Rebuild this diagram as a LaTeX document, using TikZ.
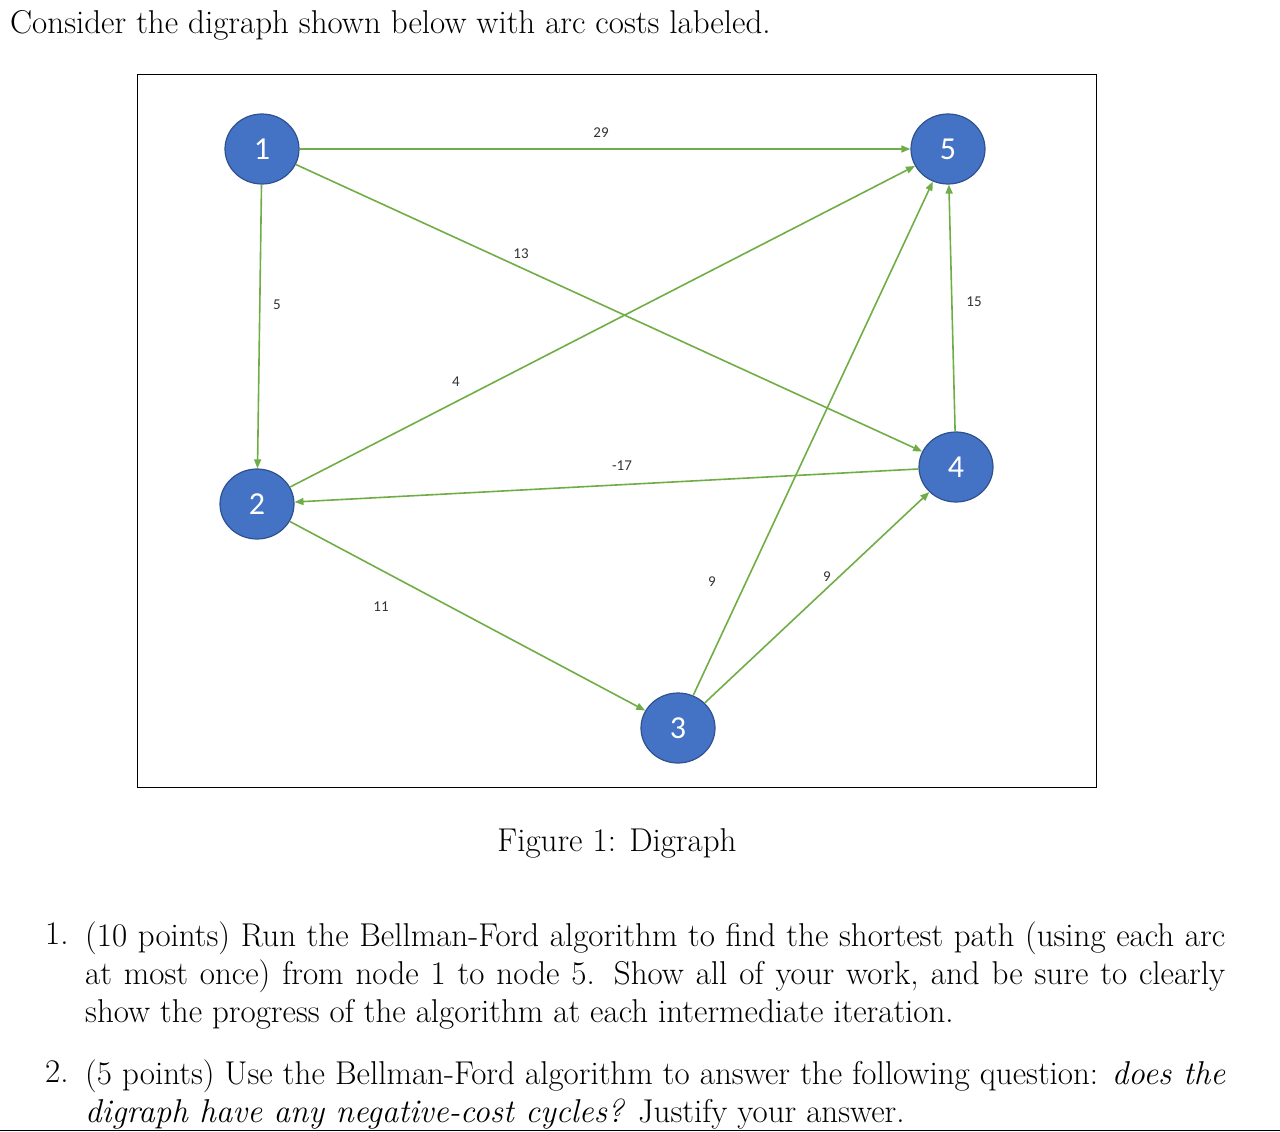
\documentclass[tikz,border=0pt]{standalone}
\usepackage{fontspec}
\newfontfamily\calib{Carlito}
\usetikzlibrary{arrows.meta,shapes.geometric}
\definecolor{nfill}{HTML}{4472C4}
\definecolor{ndraw}{HTML}{2F528F}
\definecolor{egreen}{HTML}{70AD47}
\begin{document}
\begin{tikzpicture}[x=1pt,y=-1pt,
  vert/.style={ellipse,draw=ndraw,line width=1.2pt,fill=nfill,minimum width=74pt,minimum height=70pt,inner sep=0pt,text=white,font=\calib\fontsize{32}{34}\selectfont},
  arc/.style={draw=egreen,line width=1.6pt,-{Triangle[length=9pt,width=7pt]}},
  lab/.style={font=\calib\fontsize{15}{17}\selectfont,text=black!80},
  body/.style={font=\fontsize{33}{38}\selectfont,anchor=north west,align=justify,inner sep=0pt}]
\useasboundingbox (0,0) rectangle (1280,1132);
\node[anchor=west,inner sep=0pt,font=\fontsize{33}{38}\selectfont] (t) at (10,25) {Consider the digraph shown below with arc costs labeled.};
\draw[line width=1pt] (137,75) rectangle (1096,787);
\node[vert] (n1) at (262,149) {1};
\node[vert] (n5) at (948,149) {5};
\node[vert] (n2) at (257,504) {2};
\node[vert] (n4) at (956,467) {4};
\node[vert] (n3) at (678,728) {3};
\draw[arc] (n1) -- (n5);
\draw[arc] (n1) -- (n2);
\draw[arc] (n1) -- (n4);
\draw[arc] (n2) -- (n5);
\draw[arc] (n4) -- (n2);
\draw[arc] (n2) -- (n3);
\draw[arc] (n3) -- (n5);
\draw[arc] (n3) -- (n4);
\draw[arc] (n4) -- (n5);
\node[lab] (l29) at (601,133) {29};
\node[lab] (l13) at (521,254) {13};
\node[lab] (l5) at (277,305) {5};
\node[lab] (l15) at (974,302) {15};
\node[lab] (l4) at (456,382) {4};
\node[lab] (l17) at (622,466) {-17};
\node[lab] (l9a) at (712,582) {9};
\node[lab] (l9b) at (827,577) {9};
\node[lab] (l11) at (381,607) {11};
\node[font=\fontsize{33}{38}\selectfont] (cap) at (617,843) {Figure 1: Digraph};
\node[anchor=north west,inner sep=0pt,font=\fontsize{33}{38}\selectfont] (i1) at (45,922) {1.};
\node[body,text width=1140pt] (p1) at (85,922) {(10 points) Run the Bellman-Ford algorithm to find the shortest path (using each arc at most once) from node 1 to node 5. Show all of your work, and be sure to clearly show the progress of the algorithm at each intermediate iteration.};
\node[anchor=north west,inner sep=0pt,font=\fontsize{33}{38}\selectfont] (i2) at (45,1060) {2.};
\node[body,text width=1140pt] (p2) at (85,1060) {(5 points) Use the Bellman-Ford algorithm to answer the following question: \emph{does the digraph have any negative-cost cycles?} Justify your answer.};
\draw[line width=1pt] (0,1130) -- (1280,1130);
\end{tikzpicture}
\end{document}
